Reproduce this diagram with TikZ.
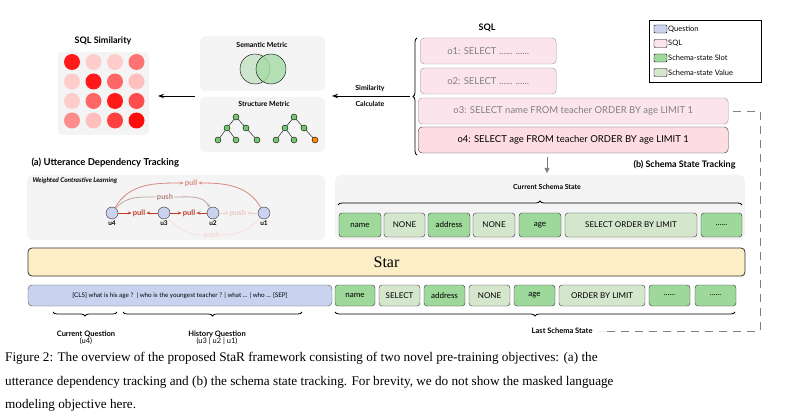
\documentclass[tikz,border=0pt]{standalone}
\usepackage{fontspec}
\setmainfont{Liberation Serif}
\newfontfamily\lato{Lato}
\usetikzlibrary{arrows.meta,decorations.pathreplacing,calc}
\newcommand\mysixdots{......}
\definecolor{qb}{HTML}{C9D3F0}
\definecolor{sqlp}{HTML}{FCE4EC}
\definecolor{slot}{HTML}{9ED89A}
\definecolor{val}{HTML}{D4E6CC}
\definecolor{panel}{HTML}{F4F4F4}
\definecolor{starc}{HTML}{FCEFC8}
\definecolor{pullc}{HTML}{C0392B}
\begin{document}
\begin{tikzpicture}[x=1pt,y=-1pt,
  every node/.style={font=\lato\fontsize{8}{9}\selectfont},
  pan/.style={fill=panel,rounded corners=6pt,draw=none},
  tok/.style={draw=black!80,rounded corners=3pt,minimum height=24pt,inner sep=1pt,font=\lato\fontsize{8}{9}\selectfont},
  slotb/.style={tok,fill=slot},
  valb/.style={tok,fill=val},
  sqlb/.style={draw=black!40,fill=sqlp,rounded corners=4pt,minimum height=26pt,anchor=west,text=black!50,font=\lato\fontsize{9.5}{10}\selectfont,inner xsep=6pt},
  unode/.style={circle,draw=black!80,fill=qb,minimum size=12pt,inner sep=0pt},
  tnode/.style={circle,draw=black,fill=green!60!black!55,minimum size=6pt,inner sep=0pt},
  brace/.style={decorate,decoration={brace,amplitude=4pt},thick},
  garrow/.style={draw=gray,thick,-{Triangle[length=5pt,width=5pt]}},
  ttl/.style={font=\lato\bfseries\fontsize{9}{10}\selectfont}]
\useasboundingbox (0,0) rectangle (791,419);
% SQL similarity
\node[ttl] (simt) at (103,41) {SQL Similarity};
\fill[panel,rounded corners=4pt] (58,52) rectangle (149,135);
\foreach \r/\row in {0/{90,20,20,55},1/{20,90,60,25},2/{20,60,90,70},3/{45,25,75,95}}{
  \foreach \v [count=\c from 0] in \row {
    \fill[red!\v!white,opacity=1] ({72+\c*21.5},{62+\r*19.5}) circle (8);
  }}
\coordinate (simr) at (158,96);
\node[pan,minimum width=125pt,minimum height=55pt] (sem) at (262.5,63.5) {};
\node[font=\lato\bfseries\fontsize{7}{8}\selectfont] at (262,45) {Semantic Metric};
\draw[fill=green!50!black!20] (255,69) circle (15);
\draw[fill=green!60!black!35,fill opacity=0.8] (271,69) circle (15);
\node[pan,minimum width=125pt,minimum height=55pt] (str) at (262.5,124.5) {};
\node[font=\lato\bfseries\fontsize{7}{8}\selectfont] at (264,104) {Structure Metric};
\foreach \ox/\lc in {0/green!60!black!55,58/orange!90!yellow}{
  \begin{scope}[xshift=\ox pt]
  \node[tnode] (a) at (236,117) {};
  \node[tnode] (b) at (227,128) {};
  \node[tnode] (c) at (246,128) {};
  \node[tnode] (d) at (218,140) {};
  \node[tnode] (e) at (236,140) {};
  \node[tnode,fill=\lc] (f) at (257,140) {};
  \draw (a)--(b) (a)--(c) (b)--(d) (b)--(e) (c)--(f);
  \end{scope}}
\draw[thick,-{Stealth[length=6pt]}] (195,96) -- (simr);
\node[font=\lato\bfseries\fontsize{7}{8}\selectfont] (simc) at (370,88) {Similarity};
\node[font=\lato\bfseries\fontsize{7}{8}\selectfont] (calc) at (370,104) {Calculate};
\coordinate (strr) at (332,96);
\draw[thick,-{Stealth[length=6pt]}] (410,96) -- (strr);
% SQL
\node[ttl] (sqlt) at (487,28) {SQL};
\draw[brace] (417,155) -- (417,38);
\node[sqlb,minimum width=136pt] (o1) at (420,51) {o1: SELECT \mysixdots{} \mysixdots};
\node[sqlb,minimum width=136pt] (o2) at (420,81) {o2: SELECT \mysixdots{} \mysixdots};
\node[sqlb,minimum width=310pt] (o3) at (418,111) {o3: SELECT name FROM teacher ORDER BY age LIMIT 1};
\node[sqlb,minimum width=310pt,draw=black!80,text=black,fill=sqlp!80!pink] (o4) at (418,140) {o4: SELECT age FROM teacher ORDER BY age LIMIT 1};
% legend
\node[draw,thick,minimum width=112pt,minimum height=62pt] (leg) at (705,51) {};
\foreach \c/\t [count=\i from 0] in {qb/Question,sqlp/SQL,slot/Schema-state Slot,val/Schema-state Value}{
  \draw[fill=\c,rounded corners=1pt] (654,{25+\i*14.5}) rectangle (667,{33+\i*14.5});
  \node[anchor=west,inner sep=1pt,font=\lato\fontsize{7.5}{8}\selectfont] at (667,{29+\i*14.5}) {\t};
}
% dashed
\coordinate (lss) at (598,331);
\draw[gray,thick,dash pattern=on 8pt off 6pt] (o3.east)++(5,0) -- (760,111) -- (760,331) -- ($(lss)+(8,0)$);
\draw[garrow,draw=none,fill=gray] ($(lss)+(8,0)$) -- (lss);
% (b)
\draw[garrow] (547,157) -- (547,173);
\node[ttl,anchor=east] at (739,165) {(b) Schema State Tracking};
\node[pan,minimum width=410pt,minimum height=65pt] (rp) at (540,207.5) {};
\node[font=\lato\bfseries\fontsize{7}{8}\selectfont] at (547,187) {Current Schema State};
\draw[brace] (338,205) -- (742,205);
\foreach \a/\b/\t/\s in {339/381/name/slotb,384/425/NONE/valb,428/470/address/slotb,473/515/NONE/valb,519/561/age/slotb,565/697/SELECT ORDER BY LIMIT/valb,701/742/\mysixdots/slotb}{
  \node[\s,minimum width={\b-\a},minimum height=24pt] at ({(\a+\b)/2},225) {\t};}
% (a)
\node[ttl,anchor=west,font=\lato\bfseries\fontsize{9.5}{10}\selectfont] at (28,163) {(a) Utterance Dependency Tracking};
\node[pan,minimum width=298pt,minimum height=65pt] (lp) at (176,207.5) {};
\node[anchor=west,font=\lato\bfseries\itshape\fontsize{6.5}{7}\selectfont] at (29,181) {Weighted Contrastive Learning};
\node[unode] (u4) at (112,213) {};
\node[unode] (u3) at (164,213) {};
\node[unode] (u2) at (213,213) {};
\node[unode] (u1) at (264,213) {};
\foreach \u in {u1,u2,u3,u4}{\node[font=\lato\bfseries\fontsize{6.5}{7}\selectfont,anchor=north,inner sep=1pt] at (\u.south) {\u};}
\tikzset{pl/.style={text=pullc,font=\lato\bfseries\fontsize{7.5}{8}\selectfont,inner sep=1pt}}
\node[pl] (p43) at (139,213) {pull};
\node[pl] (p32) at (189,213) {pull};
\draw[pullc,thick,-{Stealth[length=4pt]}] (u4) -- (p43);
\draw[pullc,thick,-{Stealth[length=4pt]}] (u3) -- (p43);
\draw[pullc,thick,-{Stealth[length=4pt]}] (u3) -- (p32);
\draw[pullc,thick,-{Stealth[length=4pt]}] (u2) -- (p32);
\node[pl,text=pullc!30] (p21) at (238,213) {push};
\draw[pullc!25,thick,-{Stealth[length=4pt]}] (u2) -- (p21);
\draw[pullc!25,thick,-{Stealth[length=4pt]}] (u1) -- (p21);
\node[pl,text=pullc!60] (ptop) at (191,183) {pull};
\draw[pullc!60,thick,-{Stealth[length=4pt]}] (u4) to[out=60,in=180] (ptop);
\draw[pullc!60,thick,-{Stealth[length=4pt]}] (u1) to[out=120,in=0] (ptop);
\node[pl,text=pullc!40!gray!80] (pmid) at (165,197) {push};
\draw[pullc!30!gray!60,thick] (u4) to[out=50,in=180] (pmid);
\draw[pullc!30!gray!60,thick,-{Stealth[length=4pt]}] (pmid) to[out=0,in=120] (u2);
\node[pl,text=pullc!20] (pbot) at (212,235) {push};
\draw[pullc!15,thick] (u3) to[out=-50,in=180] (pbot);
\draw[pullc!15,thick] (pbot) to[out=0,in=-130] (u1);
% STAR
\node[draw=black!80,thick,fill=starc,rounded corners=4pt,minimum width=717pt,minimum height=28pt,font=\fontsize{16}{18}\selectfont] (star) at (386.5,262) {\textsc{Star}};
% bottom row
\node[draw=black!70,fill=qb,rounded corners=4pt,minimum width=304pt,minimum height=21pt,inner sep=1pt,font=\lato\fontsize{6.3}{7}\selectfont] (q) at (180,295.5) {[CLS] what is his age ? \,| who is the youngest teacher ? | what ... | who ... [SEP]};
\foreach \a/\b/\t/\s in {335/375/name/slotb,379/420/SELECT/valb,424/465/address/slotb,469/510/NONE/valb,514/555/age/slotb,559/645/ORDER BY LIMIT/valb,649/690/\mysixdots/slotb,695/736/\mysixdots/slotb}{
  \node[\s,minimum width={\b-\a},minimum height=21pt] at ({(\a+\b)/2},295.5) {\t};}
\draw[brace] (117,312) -- (53,312);
\draw[brace] (302,312) -- (123,312);
\draw[brace] (735,312) -- (335,312);
\node[font=\lato\bfseries\fontsize{7.5}{8.5}\selectfont,align=center] (cq) at (86,338) {Current Question\\[-1pt]{\mdseries (u4)}};
\node[font=\lato\bfseries\fontsize{7.5}{8.5}\selectfont,align=center] (hq) at (217,338) {History Question\\[-1pt]{\mdseries (u3 | u2 | u1)}};
\node[font=\lato\bfseries\fontsize{7.5}{8.5}\selectfont,anchor=east] (lst) at (596,331) {Last Schema State};
% caption
\node[anchor=west,inner sep=0pt,font=\fontsize{13.2}{15}\selectfont] at (5,358) {Figure 2: The overview of the proposed S\textsc{ta}R framework consisting of two novel pre-training objectives: (a) the};
\node[anchor=west,inner sep=0pt,font=\fontsize{13.2}{15}\selectfont] at (5,382) {utterance dependency tracking and (b) the schema state tracking. For brevity, we do not show the masked language};
\node[anchor=west,inner sep=0pt,font=\fontsize{13.2}{15}\selectfont] at (5,405) {modeling objective here.};
\end{tikzpicture}
\end{document}
